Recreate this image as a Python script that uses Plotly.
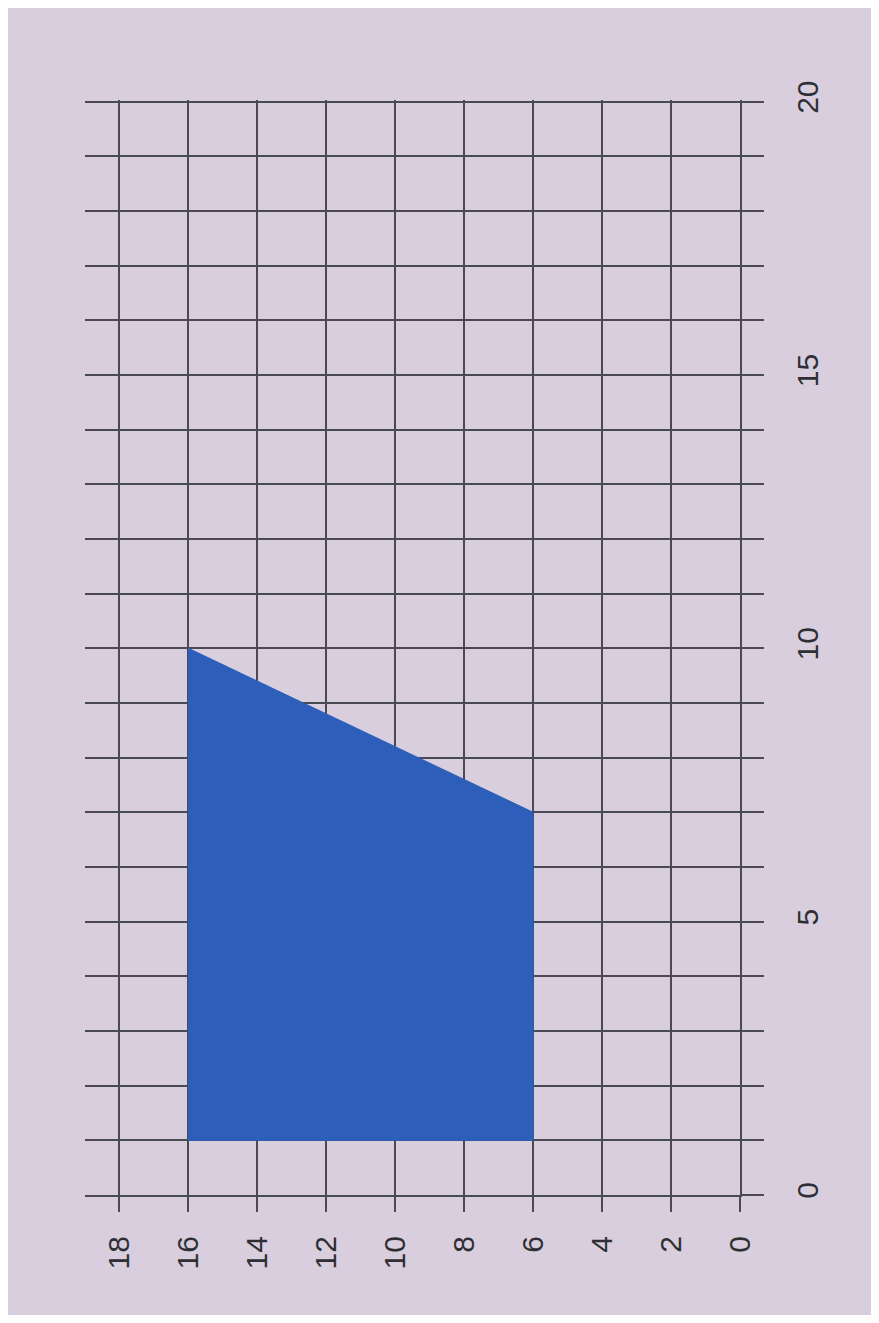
import plotly.graph_objects as go

# feasible region corners (x, y) in the chart's own units
region_x = [1, 1, 10, 7, 1]
region_y = [6, 16, 16, 6, 6]

# axis ticks
x_ticks = [0, 5, 10, 15, 20]
y_ticks = [0, 2, 4, 6, 8, 10, 12, 14, 16, 18]

bg = "#d8cedd"
grid = "#4a4a52"
label_font = dict(family="Liberation Sans, Arial, sans-serif", size=30, color="#2e2e34")

fig = go.Figure()
# the picture is turned a quarter turn: chart y runs right-to-left, chart x runs upward
fig.add_trace(go.Scatter(
    x=region_y, y=region_x, mode="lines", fill="toself",
    fillcolor="#2d5fba", line=dict(color="#2d5fba", width=1),
    hoverinfo="skip", showlegend=False,
))

fig.update_layout(
    width=863, height=1307,
    margin=dict(l=77, r=131, t=92, b=120),
    paper_bgcolor=bg, plot_bgcolor=bg,
    xaxis=dict(
        range=[19, 0], tickvals=y_ticks, ticktext=[str(v) for v in y_ticks],
        showgrid=True, gridcolor=grid, gridwidth=2,
        showline=True, linecolor=grid, linewidth=2,
        ticks="outside", ticklen=15, tickcolor=grid, tickwidth=2,
        tickangle=-90, tickfont=label_font, ticklabelstandoff=12,
        zeroline=False,
    ),
    yaxis=dict(
        range=[0, 20.03], side="right", tickvals=x_ticks,
        showgrid=True, gridcolor=grid, gridwidth=2,
        showline=True, linecolor=grid, linewidth=2,
        ticks="outside", ticklen=22, tickcolor=grid, tickwidth=2,
        minor=dict(dtick=1, tick0=0, showgrid=True, gridcolor=grid, gridwidth=2,
                   ticks="outside", ticklen=22, tickcolor=grid, tickwidth=2),
        tickangle=-90, tickfont=label_font, ticklabelstandoff=18,
        zeroline=False,
    ),
)

fig.write_html("out.html")
